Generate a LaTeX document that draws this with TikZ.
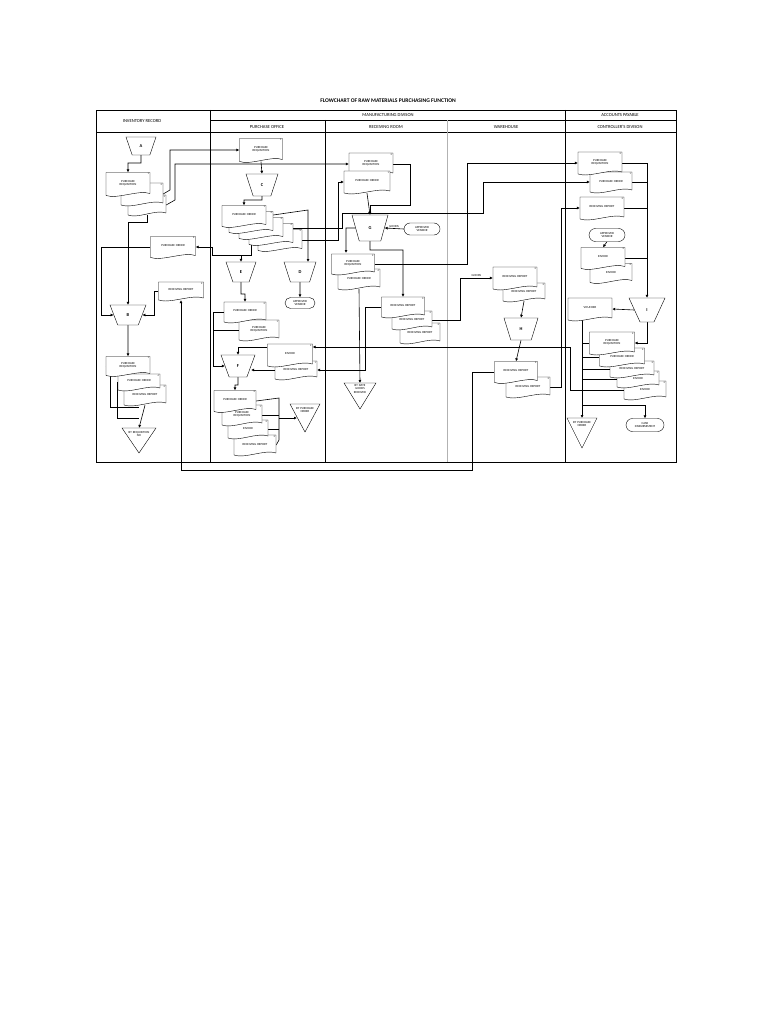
\documentclass[tikz,border=0pt]{standalone}
\usepackage{fontspec}
\setmainfont{Carlito}
\usetikzlibrary{shapes.geometric,shapes.misc,arrows.meta,calc}
\pgfdeclarelayer{bg}\pgfsetlayers{bg,main}
\newcommand\docu[7]{%
\draw[fill=white,line width=0.4pt] ({#2-#4/2},{#3-#5/2}) -- ({#2+#4/2},{#3-#5/2}) -- ({#2+#4/2},{#3+#5/2-2}) .. controls ({#2+#4/4},{#3+#5/2-6}) and ({#2-#4/4},{#3+#5/2+4}) .. ({#2-#4/2},{#3+#5/2}) -- cycle;
\node[inner sep=0,minimum width=#4pt,minimum height=#5pt] (#1) at (#2,#3) {};
\node[doctxt,text width={#4pt-6pt}] at (#2,{#3-1}) {#6};
\node[numtxt,anchor=north east] at ({#2+#4/2-0.5},{#3-#5/2+0.3}) {#7};}
\newcommand\tri[6]{%
\coordinate (#1) at (#2,#3);
\draw[fill=white,line width=0.4pt] ({#2-#4/2},#3) -- ({#2+#4/2},#3) -- (#2,{#3+#5}) -- cycle;
\node[doctxt,text width={#4pt-8pt}] at (#2,{#3+6}) {#6};}
\begin{document}
\begin{tikzpicture}[x=1pt,y=-1pt,
 doctxt/.style={font=\fontsize{3.1}{3.5}\selectfont,align=center,inner sep=0},
 numtxt/.style={font=\fontsize{2.6}{3}\selectfont,inner sep=0.3pt},
 hdr/.style={font=\fontsize{4.6}{5}\selectfont,inner sep=0},
 trap/.style={draw,fill=white,line width=0.4pt,trapezium,shape border rotate=180,trapezium stretches=true,trapezium left angle=72,trapezium right angle=72,font=\fontsize{4.5}{5}\selectfont\bfseries,inner sep=0},
 term/.style={draw,fill=white,line width=0.4pt,rounded rectangle,font=\fontsize{3.1}{3.5}\selectfont,align=center,inner sep=0},
 ln/.style={draw,line width=0.6pt},
 ar/.style={ln,-{Latex[length=3pt,width=3pt]}}]
\useasboundingbox (0,0) rectangle (768,1024);
\node[font=\fontsize{5.6}{6}\selectfont\bfseries] (title) at (388,101) {FLOWCHART OF RAW MATERIALS PURCHASING FUNCTION};
\node[hdr] (h1) at (142,121) {INVENTORY RECORD};
\node[hdr] (h2) at (388,115) {MANUFACTURING DIVISON};
\node[hdr] (h3) at (620,115) {ACCOUNTS PAYABLE};
\node[hdr] (h4) at (267,127) {PURCHASE OFFICE};
\node[hdr] (h5) at (386,127) {RECEIVING ROOM};
\node[hdr] (h6) at (506,127) {WAREHOUSE};
\node[hdr] (h7) at (620,127) {CONTROLLER'S DIVISON};
% ---------- Inventory record
\node[trap,minimum width=30pt,minimum height=18pt] (A) at (141,146) {A};
\docu{prOc}{147}{205}{38}{20}{}{3}
\docu{prOb}{142}{194}{42}{22}{}{2}
\docu{prOa}{128}{184}{44}{23}{PURCHASE\\REQUISITION}{1}
\docu{poO}{173}{247}{45}{21}{PURCHASE ORDER}{4}
\docu{rrO}{181}{291}{45}{18}{RECEIVING REPORT}{2}
\node[trap,minimum width=36pt,minimum height=20pt] (B) at (128,315) {B};
\docu{rrOs}{145}{395}{42}{20}{\\RECEIVING REPORT}{2}
\docu{poOs}{139}{382}{42}{16}{PURCHASE ORDER}{4}
\docu{prOs}{128}{366}{44}{19}{PURCHASE\\REQUISITION}{1}
\tri{tO}{139}{428}{34}{25}{BY REQUISITION\\NO}
% ---------- Purchase office
\docu{prP}{261}{150}{43}{23}{PURCHASE\\REQUISITION}{1}
\node[trap,minimum width=32pt,minimum height=22pt] (C) at (262,185) {C};
\docu{poPe}{280}{240}{44}{21}{}{5}
\docu{poPd}{271}{234}{44}{21}{}{4}
\docu{poPc}{261}{228}{44}{21}{}{3}
\docu{poPb}{251}{222}{44}{21}{}{2}
\docu{poPa}{244}{216}{44}{21}{PURCHASE ORDER}{1}
\node[trap,minimum width=30pt,minimum height=20pt] (E) at (241,272) {E};
\node[trap,minimum width=32pt,minimum height=20pt] (D) at (300,272) {D};
\node[term,minimum width=30pt,minimum height=11pt] (avP) at (300,303) {APPROVED\\VENDOR};
\docu{prQ}{259}{330}{40}{20}{PURCHASE\\REQUISITION}{1}
\docu{poQ}{245}{312}{42}{20}{PURCHASE ORDER}{2}
\docu{rrQ}{296}{370}{42}{18}{\\RECEIVING REPORT}{1}
\docu{invQ}{290}{355}{45}{22}{INVOICE}{2}
\node[trap,minimum width=34pt,minimum height=22pt] (F) at (238,366) {F};
\docu{rrR}{255}{445}{42}{20}{\\RECEIVING REPORT}{3}
\docu{invR}{248}{429}{40}{18}{\\INVOICE}{2}
\docu{prR}{242}{415}{40}{20}{PURCHASE\\REQUISITION}{1}
\docu{poR}{235}{401}{42}{21}{PURCHASE ORDER}{2}
\tri{tP}{305}{404}{30}{28}{BY PURCHASE\\ORDER}
% ---------- Receiving room
\docu{prS}{371}{164}{44}{22}{PURCHASE\\REQUISITION}{2}
\docu{poS}{367}{182}{46}{22}{PURCHASE ORDER}{1}
\node[trap,minimum width=36pt,minimum height=26pt] (G) at (370,228) {G};
\node[term,minimum width=36pt,minimum height=12pt] (avS) at (422,229) {APPROVED\\VENDOR};
\docu{poT}{359}{279}{42}{20}{\\PURCHASE ORDER}{4}
\docu{prT}{353}{264}{43}{20}{PURCHASE\\REQUISITION}{2}
\docu{rrTc}{420}{333}{40}{20}{\\RECEIVING REPORT}{3}
\docu{rrTb}{412}{320}{40}{18}{\\RECEIVING REPORT}{2}
\docu{rrTa}{403}{307}{43}{20}{RECEIVING REPORT}{3}
\tri{tS}{360}{383}{32}{26}{BY DATE\\GOODS\\RECEIVED}
% ---------- Warehouse
\docu{rrWb}{524}{292}{42}{18}{\\RECEIVING REPORT}{3}
\docu{rrWa}{515}{278}{44}{22}{RECEIVING REPORT}{2}
\node[trap,minimum width=34pt,minimum height=22pt] (H) at (521,329) {H};
\docu{rrXb}{528}{387}{44}{20}{\\RECEIVING REPORT}{3}
\docu{rrXa}{516}{372}{43}{21}{RECEIVING REPORT}{2}
% ---------- Controller's division
\docu{poC}{611}{182}{42}{20}{\\PURCHASE ORDER}{1}
\docu{prC}{600}{163}{44}{22}{PURCHASE\\REQUISITION}{2}
\docu{rrC}{602}{208}{44}{22}{RECEIVING REPORT}{3}
\node[term,minimum width=36pt,minimum height=13pt] (avC) at (607,235) {APPROVED\\VENDOR};
\docu{invCb}{611}{273}{42}{19}{\\INVOICE}{2}
\docu{invCa}{603}{258}{44}{21}{INVOICE}{2}
\node[trap,minimum width=36pt,minimum height=24pt] (I) at (647,310) {I};
\docu{vou}{590}{309}{44}{22}{VOUCHER}{}
\docu{invDb}{645}{390}{42}{18}{\\INVOICE}{2}
\docu{invDa}{638}{379}{42}{16}{\\INVOICE}{1}
\docu{rrD}{632}{369}{44}{16}{\\RECEIVING REPORT}{3}
\docu{poD}{622}{357}{45}{18}{\\PURCHASE ORDER}{4}
\docu{prD}{612}{343}{45}{22}{PURCHASE\\REQUISITION}{2}
\tri{tC}{582}{418}{30}{30}{BY PURCHASE\\ORDER}
\node[term,minimum width=38pt,minimum height=13pt] (cash) at (645,425) {CASH\\DISBURSEMENT};
\coordinate (dtop) at (308,262);
\begin{pgfonlayer}{bg}
\fill[white] (0,0) rectangle (768,1024);
\draw[line width=0.7pt] (96,110) rectangle (676,462);
\draw[line width=0.7pt] (210,120) -- (676,120) (96,132) -- (676,132);
\draw[line width=0.7pt] (210,110) -- (210,462) (565,110) -- (565,462) (325,120) -- (325,462);
\draw[line width=0.4pt,gray!60] (447,120) -- (447,462);
% inventory
\draw[ar] (A.south) -- (141,163) -| (prOa.north);
\draw[ar] (prOb.east) -- (170,190) |- (prP.west);
\draw[ar] (prOc.east) -- (175,200) |- (prS.west);
\draw[ar] (prOc.south) -- (147,222) -| (B.north);
\draw[ar] (poO.west) -- (101,247) |- (B.west);
\draw[ar] (rrO.west) -- (154,291) |- (B.east);
\draw[ar] (B.south) -- (prOs.north);
\draw[ln] (prOs.west) -- (110,366) |- (139,407);
\draw[ln] (poOs.west) -- (117,382) |- (139,418);
\draw[ar] (rrOs.south) -- (tO);
% purchase office
\draw[ar] (prP.south) -- (C.north);
\draw[ar] (C.south) -- (262,200) -| (poPa.north);
\draw[ar] (poPa.east) -- (308,210) -- (dtop);
\draw[ar] (poPe.east) -- (338,240) |- (poS.west);
\draw[ar] (poPc.east) -| (342,213) -- (483,213) |- (poC.west);
\draw[ar] (poPb.south) -- (251,255) -| (E.north);
\draw[ar] (251,255) -- (212,255) |- (poO.east);
\draw[ar] (D.south) -- (avP.north);
\draw[ar] (E.south) -- (241,294) -| (poQ.north);
\draw[ln] (prQ.west) -- (213,330);
\draw[ar] (poQ.west) -- (213,312) |- (F.west);
\draw[ar] ($(invQ.west)+(0,-8)$) -| (F.north);
\draw[ar] (rrQ.west) -- (rrQ.west -| F.east);
\draw[ar] (F.south) -- (238,385) -| (poR.north);
\draw[ln] (poR.east) -- (279,398) -- (279,440) -- (rrR.east);
\draw[ln] (prR.east) -- (279,415) (invR.east) -- (279,429);
\draw[ar] (279,418) -- (297,418);
% receiving room
\draw[ar] (prS.east) -| (410,205) -| (G.north);
\draw[ar] (poS.south) -- (G.north);
\draw[ar] (avS.west) -- node[above,doctxt,yshift=1pt]{GOODS} (G.east);
\draw[ar] (G.west) -- (346,228) -- (346,253);
\draw[ar] (G.south) -- (370,250) -| (rrTa.north);
\draw[ar] (prT.east) -- (467,264) |- (prC.west);
\draw[ar] (poT.south) -- (tS);
\draw[ar] (rrTa.west) -| (365,370) -- (rrQ.east);
\draw[ar] (rrTb.east) -- (460,320) |- node[pos=0.75,above,doctxt,yshift=1pt]{GOODS} (rrWa.west);
% warehouse
\draw[ar] (rrWb.south) -- (H.north);
\draw[ar] (H.south) -- (rrXa.north);
\draw[ar] (rrXb.east) -- (561,387) |- (rrC.west);
\draw[ar] (rrXa.west) -- (472,372) -- (472,470) -| (rrO.south);
% controller
\draw[ar] (prC.east) -| (I.north);
\draw[ln] (poC.east) -- (647,182) (rrC.east) -- (647,208) (invCa.east) -- (647,258);
\draw[ar] (avC.south) -- (invCa.north);
\draw[ar] (I.west) -- (vou.east);
\draw[ar] (I.south) |- (prD.east);
\draw[ar] (invDb.west) -- (570,390) -- (570,347) -- ($(invQ.east)+(0,-8)$);
\draw[ar] ($(vou.south)+(-8,0)$) -- (tC);
\draw[ar] (582,405) -| (cash.north);
\draw[ln] (prD.west) -- (582,343) (poD.west) -- (582,357) (rrD.west) -- (582,369) (invDa.west) -- (582,379);
\end{pgfonlayer}
\end{tikzpicture}
\end{document}
